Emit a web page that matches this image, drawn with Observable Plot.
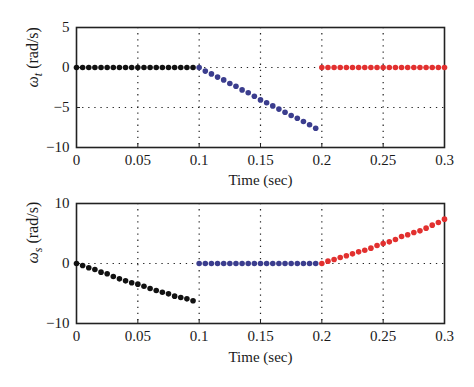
<!DOCTYPE html>
<html>
<head>
<meta charset="utf-8">
<script src="https://cdn.jsdelivr.net/npm/d3@7"></script>
<script src="https://cdn.jsdelivr.net/npm/@observablehq/plot@0.6"></script>
<style>
  html, body { margin: 0; padding: 0; background: #fff; }
  #chart { width: 474px; }
  svg { display: block; }
</style>
</head>
<body>
<div id="chart"></div>
<script>
// ---- data ----
const tBlack = [0,0.005,0.01,0.015,0.02,0.025,0.03,0.035,0.04,0.045,0.05,0.055,0.06,0.065,0.07,0.075,0.08,0.085,0.09,0.095];
const tBlue  = [0.1,0.105,0.11,0.115,0.12,0.125,0.13,0.135,0.14,0.145,0.15,0.155,0.16,0.165,0.17,0.175,0.18,0.185,0.19,0.195];
const tRed   = [0.2,0.205,0.21,0.215,0.22,0.225,0.23,0.235,0.24,0.245,0.25,0.255,0.26,0.265,0.27,0.275,0.28,0.285,0.29,0.295,0.3];

// top panel: omega_t
const wtBlack = [0,0,0,0,0,0,0,0,0,0,0,0,0,0,0,0,0,0,0,0];
const wtBlue  = [0,-0.45,-0.8,-1.2,-1.55,-2.0,-2.35,-2.8,-3.15,-3.6,-4.05,-4.4,-4.8,-5.2,-5.6,-6.0,-6.35,-6.75,-7.15,-7.6];
const wtRed   = [0,0,0,0,0,0,0,0,0,0,0,0,0,0,0,0,0,0,0,0,0];

// bottom panel: omega_s
const wsBlack = [0,-0.33,-0.72,-1.0,-1.44,-1.72,-2.17,-2.56,-2.89,-3.22,-3.44,-3.78,-4.17,-4.5,-4.78,-5.06,-5.44,-5.67,-5.89,-6.22];
const wsBlue  = [0,0,0,0,0,0,0,0,0,0,0,0,0,0,0,0,0,0,0,0];
const wsRed   = [0,0.39,0.67,1.0,1.28,1.61,1.94,2.22,2.56,3.0,3.33,3.61,4.0,4.5,4.78,5.17,5.44,5.89,6.39,6.83,7.39];

const xTicks = [0,0.05,0.1,0.15,0.2,0.25,0.3];
const xTickLabels = ["0","0.05","0.1","0.15","0.2","0.25","0.3"];
const topYTicks = [5,0,-5,-10];
const botYTicks = [10,0,-10];
const xLabel = "Time (sec)";
const colors = {black: "#111111", blue: "#3b3d8e", red: "#e2302f"};

function build(tt, vv, c) { return tt.map((t, i) => ({t, v: vv[i], c})); }

const fmtY = d => d < 0 ? "\u2212" + (-d) : String(d);
const fmtX = d => xTickLabels[xTicks.indexOf(d)];

function panel({yDomain, yTicks, gridY, data, height, marginTop, marginBottom, sub, labelOffset}) {
  const svg = Plot.plot({
    width: 474, height, marginLeft: 76, marginRight: 30, marginTop, marginBottom,
    style: {fontFamily: "'Liberation Serif', 'Times New Roman', serif", fontSize: "15px", color: "#1a1a1a", background: "#fff"},
    x: {domain: [0, 0.3]},
    y: {domain: yDomain},
    marks: [
      Plot.gridX(xTicks.slice(1, -1), {stroke: "#222", strokeOpacity: 1, strokeDasharray: "1.3,4.8", strokeWidth: 1.2}),
      Plot.gridY(gridY, {stroke: "#222", strokeOpacity: 1, strokeDasharray: "1.3,4.8", strokeWidth: 1.2}),
      Plot.axisX(xTicks, {tickSize: 0, tickPadding: 7, tickFormat: fmtX, label: xLabel, labelAnchor: "center", labelArrow: "none", labelOffset}),
      Plot.axisX(xTicks, {tickSize: 4, dy: -4, tickFormat: () => "", label: null, stroke: "#222"}),
      Plot.axisY(yTicks, {tickSize: 0, tickPadding: 7, tickFormat: fmtY, label: null}),
      Plot.axisY(yTicks, {tickSize: 4, dx: 4, tickFormat: () => "", label: null, stroke: "#222"}),
      Plot.frame({stroke: "#222", strokeWidth: 1.6}),
      Plot.dot(data, {x: "t", y: "v", fill: d => colors[d.c], r: 2.8, stroke: "none"}),
      Plot.text(["ylabel"], {frameAnchor: "left", rotate: -90, dx: -44, text: d => d, fontSize: 16})
    ]
  });
  // replace y label text with italic omega and subscript
  d3.select(svg).selectAll("text").filter(function() { return this.textContent === "ylabel"; })
    .each(function() {
      const el = d3.select(this);
      el.text(null);
      el.append("tspan").attr("font-style", "italic").text("\u03C9");
      el.append("tspan").attr("font-style", "italic").attr("font-size", "12px").attr("dy", "4").text(sub);
      el.append("tspan").attr("dy", "-4").text(" (rad/s)");
    });
  return svg;
}

const topData = [...build(tBlack, wtBlack, "black"), ...build(tBlue, wtBlue, "blue"), ...build(tRed, wtRed, "red")];
const botData = [...build(tBlack, wsBlack, "black"), ...build(tBlue, wsBlue, "blue"), ...build(tRed, wsRed, "red")];

const chart = document.getElementById("chart");
chart.append(panel({yDomain: [-10, 5], yTicks: topYTicks, gridY: [0, -5], data: topData, height: 193, marginTop: 27, marginBottom: 46, sub: "t", labelOffset: 37}));
chart.append(panel({yDomain: [-10, 10], yTicks: botYTicks, gridY: [0], data: botData, height: 194, marginTop: 10, marginBottom: 64, sub: "s", labelOffset: 38}));
</script>
</body>
</html>
